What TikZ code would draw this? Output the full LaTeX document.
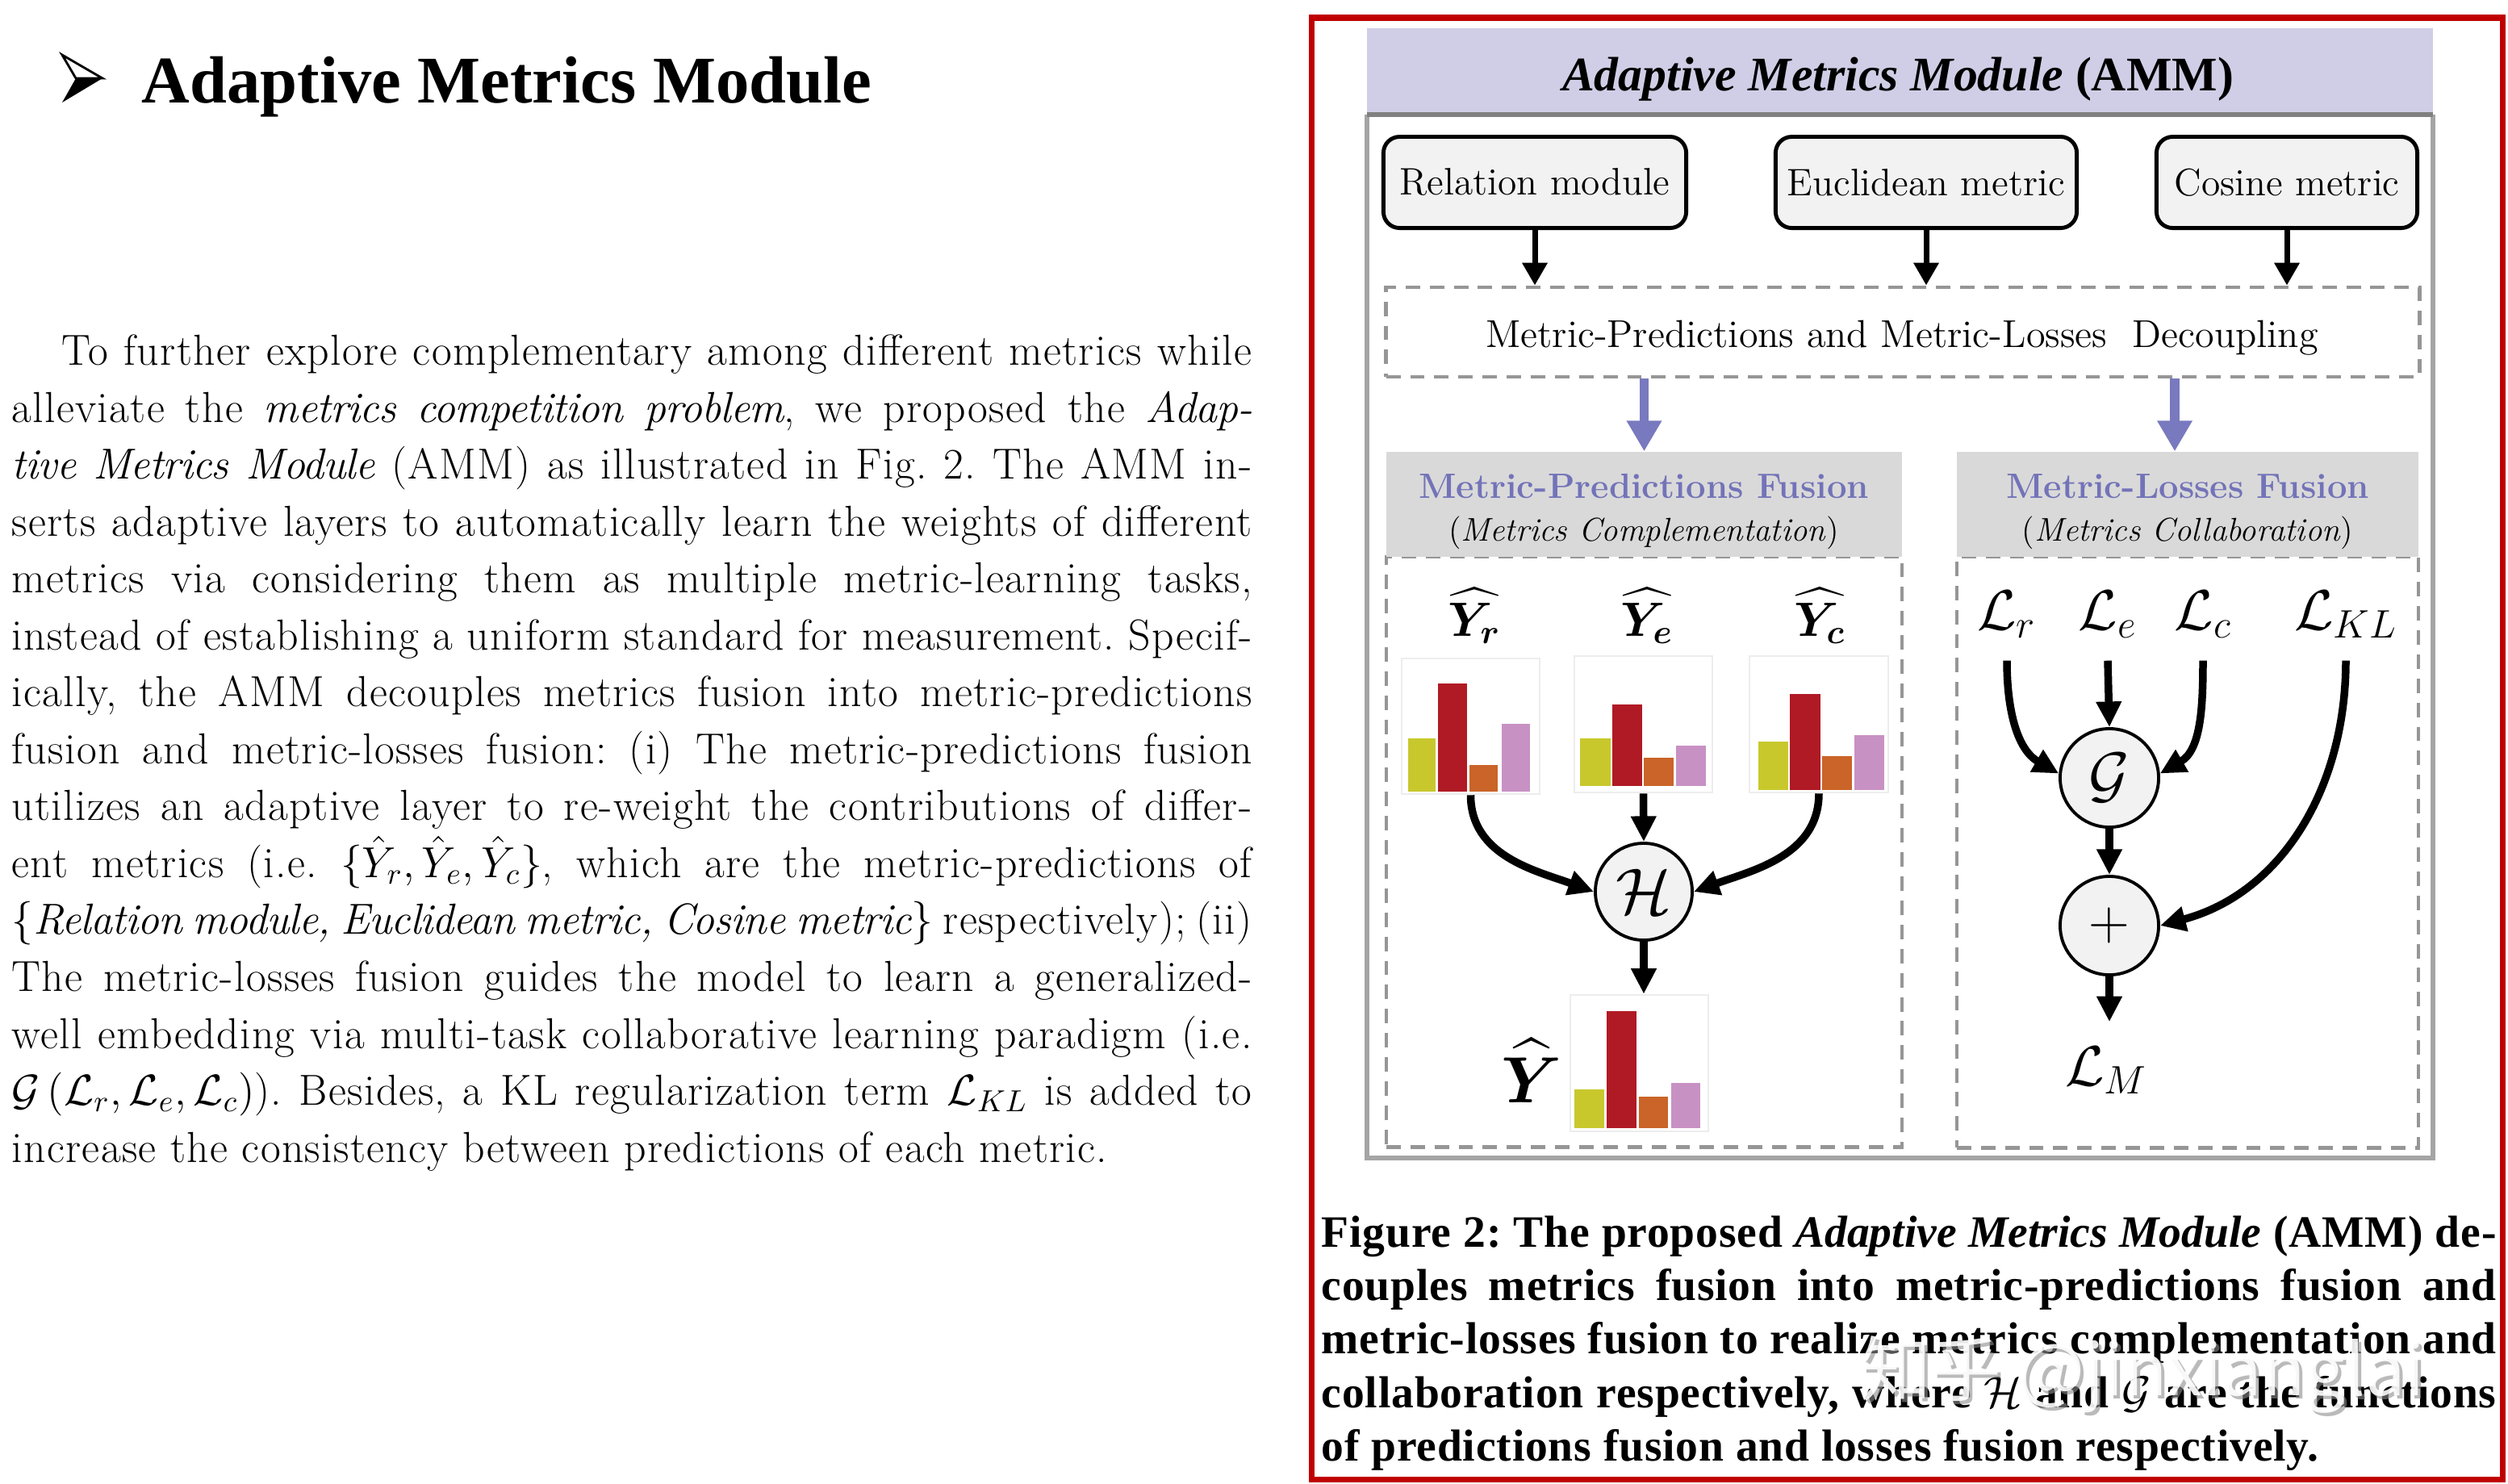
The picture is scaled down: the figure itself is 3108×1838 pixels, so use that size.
\RequirePackage{fix-cm}
\documentclass[tikz,border=0pt]{standalone}
\usepackage{fontspec}
\usepackage{amsmath,amssymb,bm}
\usetikzlibrary{arrows.meta,calc}
\newfontfamily\tnr{Liberation Serif}
\newfontfamily\capfont{Liberation Serif}[LetterSpace=1.5, ItalicFeatures={LetterSpace=0}, BoldItalicFeatures={LetterSpace=0}]
\newfontfamily\bodyfont{Latin Modern Roman}[LetterSpace=2.5, ItalicFeatures={LetterSpace=-1.6}]
\newfontfamily\cjk{Noto Sans CJK SC}
\newcommand\jl[1]{\hbox to \hsize{#1}}
\newcommand\jlast[1]{\hbox to \hsize{#1\hfil}}
\definecolor{amred}{RGB}{192,0,0}
\definecolor{band}{RGB}{208,206,230}
\definecolor{boxgray}{RGB}{242,242,242}
\definecolor{hdrgray}{RGB}{217,217,217}
\definecolor{dashgray}{RGB}{150,150,150}
\definecolor{framegray}{RGB}{165,165,165}
\definecolor{purp}{RGB}{121,121,191}
\definecolor{ptext}{RGB}{115,115,185}
\definecolor{byel}{RGB}{200,200,45}
\definecolor{bred}{RGB}{176,26,36}
\definecolor{bora}{RGB}{202,100,40}
\definecolor{bpink}{RGB}{200,145,196}
\begin{document}
\begin{tikzpicture}[x=0.01cm,y=-0.01cm,
  topbox/.style={draw=black, line width=1.4pt, fill=boxgray, rounded corners=0.2cm,
    minimum height=1.13cm, inner sep=0pt, font=\fontsize{13.5}{16}\selectfont},
  dbox/.style={draw=dashgray, line width=1.3pt, dash pattern=on 5.1pt off 3.4pt, inner sep=0pt},
  hdr/.style={fill=hdrgray, inner sep=0pt},
  chart/.style={draw=black!7, line width=0.7pt, fill=white, inner sep=0pt},
  circ/.style={circle, draw=black, line width=1.1pt, fill=boxgray, minimum size=1.2cm, inner sep=0pt},
  lab/.style={inner sep=0pt},
  arr/.style={line width=2.7pt, -{Triangle[length=9pt,width=8.5pt]}},
  arrt/.style={line width=2pt, -{Triangle[length=8pt,width=8.5pt]}},
  parr/.style={line width=3.4pt, draw=purp, -{Triangle[length=10.8pt,width=11.7pt]}, purp}
]
\useasboundingbox (0,0) rectangle (3108,1838);
\fill[white] (0,0) rectangle (3108,1838);

% ---------- slide title ----------
\fill[black] (94,97) -- (127,97) -- (77,127) -- cycle;
\draw[black, line width=0.8pt, fill=white, line join=miter] (77,68) -- (127,97) -- (94,97) -- cycle;
\node[anchor=base west, inner sep=0pt, font=\tnr\fontsize{23.5}{28}\selectfont\bfseries] (title) at (175,127) {Adaptive Metrics Module};

% ---------- body text ----------
\node[anchor=north west, inner sep=0pt, font=\bodyfont\fontsize{15.3}{20.06}\selectfont] (body) at (14,414) {\vtop{\hsize=15.36cm\frenchspacing
\jl{\hskip17.6pt To further explore complementary among different metrics while}
\jl{alleviate the \textit{metrics competition problem}, we proposed the \textit{Adap-}}
\jl{\textit{tive Metrics Module} (AMM) as illustrated in Fig.~2. The AMM in-}
\jl{serts adaptive layers to automatically learn the weights of different}
\jl{metrics via considering them as multiple metric-learning tasks,}
\jl{instead of establishing a uniform standard for measurement. Specif-}
\jl{ically, the AMM decouples metrics fusion into metric-predictions}
\jl{fusion and metric-losses fusion: (i) The metric-predictions fusion}
\jl{utilizes an adaptive layer to re-weight the contributions of differ-}
\jl{ent metrics (i.e. $\{\hat{Y}_r, \hat{Y}_e, \hat{Y}_c\}$, which are the metric-predictions of}
\jl{\{\textit{Relation module, Euclidean metric, Cosine metric}\} respectively); (ii)}
\jl{The metric-losses fusion guides the model to learn a generalized-}
\jl{well embedding via multi-task collaborative learning paradigm (i.e.}
\jl{$\mathcal{G}\left(\mathcal{L}_r, \mathcal{L}_e, \mathcal{L}_c\right)$). Besides, a KL regularization term $\mathcal{L}_{KL}$ is added to}
\jlast{increase the consistency between predictions of each metric.}}};

% ---------- figure frame ----------
\draw[amred, line width=2pt] (1625,22) rectangle (3101,1833);
\fill[band] (1694,35) rectangle (3015,142);
\draw[framegray, line width=1.5pt] (1694,142) -- (1694,1435) -- (3015,1435) -- (3015,142);
\draw[black!50, line width=1.6pt] (1694,142) -- (3015,142);
\node[anchor=base, inner sep=0pt, font=\tnr\fontsize{17}{20}\selectfont] (ammtitle) at (2352,112)
  {\bfseries\itshape Adaptive Metrics Module \upshape(AMM)};

% ---------- metric boxes ----------
\node[topbox, minimum width=3.75cm] (rel) at (1902,226) {Relation module};
\node[topbox, minimum width=3.73cm] (euc) at (2387,226) {Euclidean metric};
\node[topbox, minimum width=3.23cm] (cos) at (2834,226) {Cosine metric};

\node[dbox, minimum width=12.8cm, minimum height=1.11cm] (dec) at (2358,411.5) {};
\node[anchor=base, inner sep=0pt, font=\fontsize{13.7}{16}\selectfont] (dectxt) at (2357,430)
  {Metric-Predictions and Metric-Losses\ \ Decoupling};

\draw[arrt] (rel.south) -- (rel.south |- dec.north);
\draw[arrt] (euc.south) -- (euc.south |- dec.north);
\draw[arrt] (cos.south) -- (cos.south |- dec.north);

% ---------- fusion panels ----------
\node[dbox, minimum width=6.39cm, minimum height=7.31cm] (pL) at (2037.5,1055.5) {};
\node[dbox, minimum width=5.72cm, minimum height=7.32cm] (pR) at (2711,1056) {};
\node[hdr, minimum width=6.39cm, minimum height=1.30cm] (hL) at (2037.5,625) {};
\node[hdr, minimum width=5.72cm, minimum height=1.30cm] (hR) at (2711,625) {};
\coordinate (prx) at (2695,500);
\draw[parr] (hL.north |- dec.south) -- (hL.north);
\draw[parr] (prx |- dec.south) -- (prx |- hR.north);

\node[anchor=base, inner sep=0pt, text=ptext, font=\fontsize{12.4}{15}\selectfont\bfseries] (hL1) at (2037,617) {Metric-Predictions Fusion};
\node[anchor=base, inner sep=0pt, font=\fontsize{11.6}{14}\selectfont] (hL2) at (2037,670) {(\textit{Metrics Complementation})};
\node[anchor=base, inner sep=0pt, text=ptext, font=\fontsize{12.4}{15}\selectfont\bfseries] (hR1) at (2711,617) {Metric-Losses Fusion};
\node[anchor=base, inner sep=0pt, font=\fontsize{11.6}{14}\selectfont] (hR2) at (2711,670) {(\textit{Metrics Collaboration})};

% ---------- predictions ----------
\node[lab, font=\fontsize{17}{20}\selectfont] (yr) at (1827,763) {$\bm{\widehat{Y_r}}$};
\node[lab, font=\fontsize{17}{20}\selectfont] (ye) at (2041,763) {$\bm{\widehat{Y_e}}$};
\node[lab, font=\fontsize{17}{20}\selectfont] (yc) at (2255,763) {$\bm{\widehat{Y_c}}$};

\node[chart, minimum width=1.71cm, minimum height=1.68cm] (c1) at (1822.5,900) {};
\node[chart, minimum width=1.71cm, minimum height=1.69cm] (c2) at (2036.5,897.5) {};
\node[chart, minimum width=1.72cm, minimum height=1.69cm] (c3) at (2254,897.5) {};
\node[chart, minimum width=1.71cm, minimum height=1.69cm] (cf) at (2031.5,1317.5) {};

\fill[byel]  (1745,915) rectangle (1779,981);
\fill[bred]  (1782,847) rectangle (1818,981);
\fill[bora]  (1821,948) rectangle (1856,981);
\fill[bpink] (1861,897) rectangle (1896,981);

\fill[byel]  (1958,915) rectangle (1996,974);
\fill[bred]  (1998,873) rectangle (2035,974);
\fill[bora]  (2037,939) rectangle (2074,974);
\fill[bpink] (2077,924) rectangle (2114,974);

\fill[byel]  (2179,919) rectangle (2216,979);
\fill[bred]  (2218,860) rectangle (2256,979);
\fill[bora]  (2258,937) rectangle (2295,979);
\fill[bpink] (2298,911) rectangle (2335,979);

\fill[byel]  (1951,1350) rectangle (1988,1398);
\fill[bred]  (1991,1253) rectangle (2028,1398);
\fill[bora]  (2031,1359) rectangle (2067,1398);
\fill[bpink] (2071,1342) rectangle (2107,1398);

\node[circ, font=\fontsize{23}{26}\selectfont] (H) at (2037,1105) {$\mathcal{H}$};
\node[lab, font=\fontsize{23}{26}\selectfont] (yf) at (1898,1327) {$\bm{\widehat{Y}}$};

\draw[arr] (c1.south) to[out=-90,in=160] (H.west);
\draw[arr] (c2.south) -- (H.north);
\draw[arr] (c3.south) to[out=-90,in=20] (H.east);
\draw[arr] (H.south) -- (H.south |- cf.north);

% ---------- losses ----------
\node[lab, anchor=base, text height=14pt, text depth=10.8pt, font=\fontsize{20}{24}\selectfont] (Lr) at (2487,780) {$\mathcal{L}_r$};
\node[lab, anchor=base, text height=14pt, text depth=10.8pt, font=\fontsize{20}{24}\selectfont] (Le) at (2612,780) {$\mathcal{L}_e$};
\node[lab, anchor=base, text height=14pt, text depth=10.8pt, font=\fontsize{20}{24}\selectfont] (Lc) at (2730,780) {$\mathcal{L}_c$};
\node[lab, anchor=base, text height=14pt, text depth=10.8pt, font=\fontsize{20}{24}\selectfont] (Lkl) at (2907,780) {$\mathcal{L}_{KL}$};

\node[circ, minimum size=1.22cm, font=\fontsize{22}{26}\selectfont] (G) at (2614,964) {$\mathcal{G}$};
\node[circ, minimum size=1.22cm, font=\fontsize{20}{24}\selectfont] (P) at (2614,1147) {$+$};
\node[lab, anchor=base, text height=22.2pt, font=\fontsize{20}{24}\selectfont] (LM) at (2610,1345) {$\mathcal{L}_M$};

\draw[arr] (Lr.south) to[out=-90,in=150] (G.175);
\draw[arr] (Le.south) -- (G.north);
\draw[arr] (Lc.south) to[out=-90,in=30] (G.5);
\draw[arr] (Lkl.south) to[out=-90,in=15] (P.east);
\draw[arr] (G.south) -- (P.north);
\draw[arr] (P.south) -- (P.south |- LM.north);

% ---------- caption ----------
\node[anchor=north west, inner sep=0pt, font=\capfont\fontsize{15.8}{18.85}\selectfont\bfseries] (cap) at (1637,1506) {\vtop{\hsize=14.55cm\frenchspacing
\jl{Figure 2: The proposed \textit{Adaptive Metrics Module} (AMM) de-}
\jl{couples metrics fusion into metric-predictions fusion and}
\jl{metric-losses fusion to realize metrics complementation and}
\jl{collaboration respectively, where $\mathcal{H}$ and $\mathcal{G}$ are the functions}
\jlast{of predictions fusion and losses fusion respectively.}}};

% ---------- watermark ----------
\node[inner sep=0pt, font=\cjk\fontsize{25}{30}\selectfont, text=black!45, opacity=.6] (wm0) at (2659,1707) {知乎 @jinxianglai};
\node[inner sep=0pt, font=\cjk\fontsize{25}{30}\selectfont, text=white, opacity=.9] (wm) at (2655,1703) {知乎 @jinxianglai};
\end{tikzpicture}
\end{document}
